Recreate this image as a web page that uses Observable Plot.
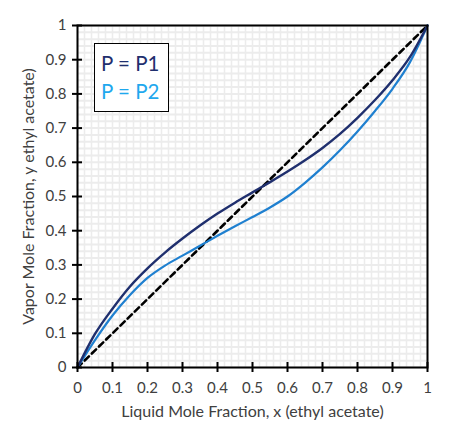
<!DOCTYPE html>
<html>
<head>
<meta charset="utf-8">
<script src="https://cdn.jsdelivr.net/npm/d3@7"></script>
<script src="https://cdn.jsdelivr.net/npm/@observablehq/plot@0.6"></script>
<style>
  html, body { margin: 0; padding: 0; background: white; }
  #wrap { position: relative; width: 454px; height: 424px; }
  #legend {
    position: absolute; left: 94px; top: 43px; width: 75px; height: 69px;
    border: 1.5px solid #000; background: white;
    font-family: Lato, "Open Sans", sans-serif; font-size: 20.5px; line-height: 28px;
    padding: 5px 0 0 6px; box-sizing: border-box;
  }
</style>
</head>
<body>
<div id="wrap"></div>
<script>
const xVals = [0, 0.05, 0.1, 0.15, 0.2, 0.25, 0.3, 0.35, 0.4, 0.45, 0.5, 0.55, 0.6, 0.65, 0.7, 0.75, 0.8, 0.85, 0.9, 0.95, 1];
const yP1 = [0, 0.098, 0.172, 0.237, 0.29, 0.336, 0.377, 0.415, 0.45, 0.482, 0.512, 0.542, 0.573, 0.606, 0.642, 0.683, 0.73, 0.782, 0.84, 0.908, 1];
const yP2 = [0, 0.08, 0.152, 0.212, 0.262, 0.298, 0.327, 0.356, 0.385, 0.413, 0.44, 0.468, 0.5, 0.54, 0.585, 0.635, 0.69, 0.75, 0.815, 0.893, 1];
const diagX = [0, 1];
const diagY = [0, 1];
const tickVals = [0, 0.1, 0.2, 0.3, 0.4, 0.5, 0.6, 0.7, 0.8, 0.9, 1];
const seriesNames = ["P = P1", "P = P2"];
const xTitle = "Liquid Mole Fraction, x (ethyl acetate)";
const yTitle = "Vapor Mole Fraction, y ethyl acetate)";

const colP1 = "#1f2f6e";
const colP2 = "#1f80d0";
const legP2 = "#1fa8ee";

const rows1 = xVals.map((x, i) => ({x, y: yP1[i]}));
const rows2 = xVals.map((x, i) => ({x, y: yP2[i]}));
const diag = diagX.map((x, i) => ({x, y: diagY[i]}));
const grid = d3.range(0, 51).map(i => i / 50);
const fmt = d => String(+d.toFixed(1));
const font = "Lato, 'Open Sans', sans-serif";

const chart = Plot.plot({
  width: 454, height: 424,
  marginLeft: 77, marginRight: 27, marginTop: 25, marginBottom: 57,
  x: {domain: [0, 1]},
  y: {domain: [0, 1]},
  style: {fontFamily: font, fontSize: "15px", color: "#404040", background: "white"},
  marks: [
    Plot.ruleY(grid, {y: d => d, stroke: "#ececec", strokeWidth: 2}),
    Plot.ruleX(grid, {x: d => d, stroke: "#ececec", strokeWidth: 1.5}),
    Plot.line(diag, {x: "x", y: "y", stroke: "black", strokeWidth: 2.6, strokeDasharray: "6,4"}),
    Plot.line(rows2, {x: "x", y: "y", stroke: colP2, strokeWidth: 2.2, curve: "monotone-x"}),
    Plot.line(rows1, {x: "x", y: "y", stroke: colP1, strokeWidth: 2.4, curve: "monotone-x"}),
    Plot.frame({stroke: "black", strokeWidth: 2}),
    Plot.ruleX(tickVals, {x: d => d, y1: 0, y2: 0, insetTop: -5, insetBottom: -5, stroke: "black", strokeWidth: 2}),
    Plot.ruleY(tickVals, {y: d => d, x1: 0, x2: 0, insetLeft: -5, insetRight: -5, stroke: "black", strokeWidth: 2}),
    Plot.axisX(tickVals, {tickSize: 0, tickPadding: 15, tickFormat: fmt, label: null, fill: "#404040", fontSize: 15}),
    Plot.axisY(tickVals, {tickSize: 0, tickPadding: 11, tickFormat: fmt, label: null, fill: "#404040", fontSize: 15}),
    Plot.text([xTitle], {frameAnchor: "bottom", dy: 49, fill: "#404040", fontSize: 16}),
    Plot.text([yTitle], {frameAnchor: "left", textAnchor: "middle", rotate: -90, dx: -49, fill: "#404040", fontSize: 16})
  ]
});

const wrap = document.getElementById("wrap");
wrap.appendChild(chart);
const leg = document.createElement("div");
leg.id = "legend";
leg.innerHTML = `<div style="color:${colP1}">${seriesNames[0]}</div><div style="color:${legP2}">${seriesNames[1]}</div>`;
wrap.appendChild(leg);
</script>
</body>
</html>
